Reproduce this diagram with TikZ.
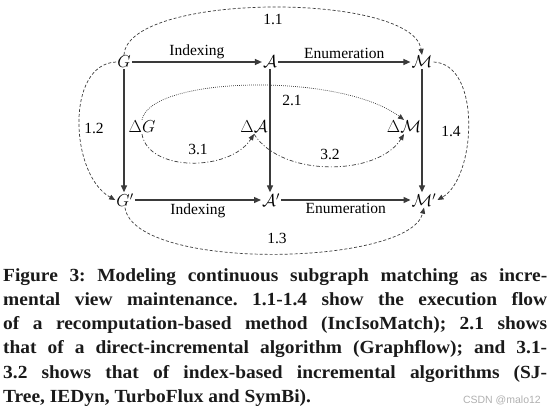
\documentclass[tikz,border=0pt]{standalone}
\usepackage{fontspec}
\setmainfont{Liberation Serif}
\setsansfont{Liberation Sans}
\newfontfamily\capfont[FakeStretch=1.05]{Liberation Serif}
\usetikzlibrary{arrows.meta}
\definecolor{linegray}{HTML}{3A3A3A}
\definecolor{markgray}{HTML}{B0B0B0}
\definecolor{captext}{HTML}{1A1A1A}
\tikzset{
  lbl/.style={font=\fontsize{15.5}{18}\selectfont, inner sep=1pt},
  mathnode/.style={font=\fontsize{16.5}{18}\selectfont, inner sep=1pt},
  mainarrow/.style={draw=linegray, line width=1.3pt, -{Triangle[length=7pt,width=6pt]}},
  dasharrow/.style={draw=linegray, line width=0.7pt, dashed, dash pattern=on 3pt off 2pt, -{Triangle[length=6pt,width=5pt]}},
  dotarrow/.style={draw=linegray, line width=0.7pt, dash pattern=on 0.8pt off 1.2pt, -{Triangle[length=6pt,width=5pt]}},
  dasharrowdot/.style={draw=linegray, line width=0.7pt, dash pattern=on 4pt off 2pt on 1pt off 2pt, -{Triangle[length=6pt,width=5pt]}},
  capline/.style={anchor=base west, inner sep=0pt, text=captext, font=\capfont\fontsize{18.5}{24}\selectfont\bfseries\frenchspacing},
}
\begin{document}
\begin{tikzpicture}[x=1pt,y=-1pt]
\useasboundingbox (0,0) rectangle (556,415);
% main nodes
\node[mathnode] (G)  at (124,62) {$G$};
\node[mathnode] (A)  at (270,62) {$\mathcal{A}$};
\node[mathnode] (M)  at (422,62) {$\mathcal{M}$};
\node[mathnode] (dG) at (142,127) {$\Delta G$};
\node[mathnode] (dA) at (254,127) {$\Delta\mathcal{A}$};
\node[mathnode] (dM) at (404,127) {$\Delta\mathcal{M}$};
\node[mathnode] (G2) at (125,200) {$G'$};
\node[mathnode] (A2) at (271,200) {$\mathcal{A}'$};
\node[mathnode] (M2) at (424,200) {$\mathcal{M}'$};
% solid arrows
\draw[mainarrow] (G) -- node[lbl, above=2pt] (l1) {Indexing} (A);
\draw[mainarrow] (A) -- node[lbl, above=2pt] (l2) {Enumeration} (M);
\draw[mainarrow] (G2) -- node[lbl, below=2pt] (l3) {Indexing} (A2);
\draw[mainarrow] (A2) -- node[lbl, below=2pt] (l4) {Enumeration} (M2);
\draw[mainarrow] (G.south) -- (G.south |- G2.north);
\draw[mainarrow] (A.south) -- (A.south |- A2.north);
\draw[mainarrow] (M.south) -- (M.south |- M2.north);
% recomputation paths
\draw[dasharrow] (G.north) .. controls (128,-8) and (412,-8) .. (M.north);
\draw[dasharrow] (G.west) .. controls (65,64) and (70,175) .. (G2.west);
\draw[dasharrow] (G2.south) .. controls (135,272) and (410,266) .. (M2.south);
\draw[dasharrow] (M.east) .. controls (482,64) and (476,178) .. (M2.east);
% direct incremental
\draw[dotarrow] (dG.north) .. controls (150,76) and (340,72) .. (dM.north);
% index based
\draw[dasharrowdot] (dG.south) .. controls (148,172) and (230,172) .. (dA.south);
\draw[dasharrowdot] (dA.south) .. controls (282,178) and (378,176) .. (dM.south);
% labels
\node[lbl] (n11) at (273,19) {1.1};
\node[lbl] (n12) at (94,128) {1.2};
\node[lbl] (n13) at (277,238) {1.3};
\node[lbl] (n14) at (451,131) {1.4};
\node[lbl] (n21) at (292,100) {2.1};
\node[lbl] (n31) at (198,149) {3.1};
\node[lbl] (n32) at (330,154) {3.2};
% caption
\node[capline] (c1) at (3,281) {\makebox[544pt][s]{Figure 3: Modeling continuous subgraph matching as incre-}};
\node[capline] (c2) at (3,305) {\makebox[544pt][s]{mental view maintenance. 1.1-1.4 show the execution flow}};
\node[capline] (c3) at (3,329) {\makebox[544pt][s]{of a recomputation-based method (IncIsoMatch); 2.1 shows}};
\node[capline] (c4) at (3,353) {\makebox[544pt][s]{that of a direct-incremental algorithm (Graphflow); and 3.1-}};
\node[capline] (c5) at (3,378) {\makebox[544pt][s]{3.2 shows that of index-based incremental algorithms (SJ-}};
\node[capline] (c6) at (3,402) {Tree, IEDyn, TurboFlux and SymBi).};
\node[anchor=base east, inner sep=0pt, text=markgray, font=\sffamily\fontsize{10.5}{12}\selectfont] (wm) at (541,403) {CSDN @malo12};
\end{tikzpicture}
\end{document}
